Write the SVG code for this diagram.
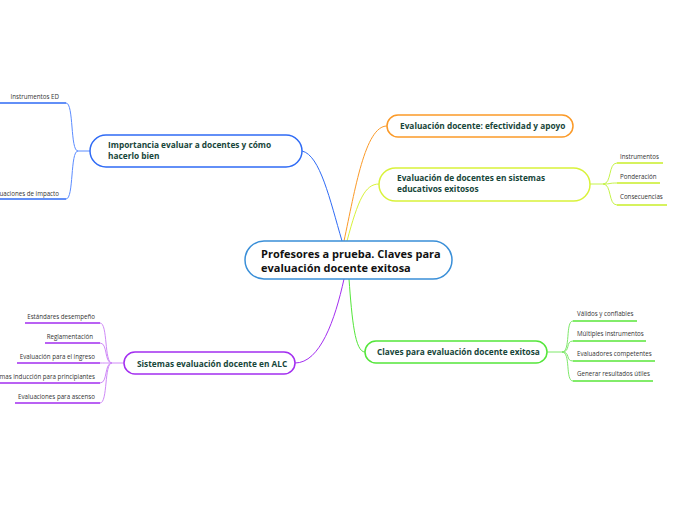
<svg xmlns="http://www.w3.org/2000/svg" width="697" height="520" viewBox="0 0 697 520">
<style>
.n{fill:#fff;stroke-width:1.5}
.t{font-family:"Open Sans","Noto Sans",sans-serif;font-weight:bold;font-size:8.3px;fill:#17463a}
.c{font-family:"Open Sans","Noto Sans",sans-serif;font-weight:bold;font-size:11px;fill:#111}
.s{font-family:"Open Sans","Noto Sans",sans-serif;font-size:6.2px;fill:#333}
.l{fill:none;stroke-width:1}
.u{fill:none;stroke-width:1.5}
</style>
<rect width="697" height="520" fill="#fff"/>
<g id="connectors">
<path class="l" stroke="#2f6bf5" stroke-width="1.4" d="M342 241 C330 200 320 155 302 151"/>
<path class="l" stroke="#fb9a28" stroke-width="1.4" d="M344 241 C355 190 365 126 387 126"/>
<path class="l" stroke="#d9f23a" stroke-width="1.4" d="M347 241 C358 200 365 184 379 184"/>
<path class="l" stroke="#54e63a" stroke-width="1.4" d="M349 279 C352 320 355 352 365 352"/>
<path class="l" stroke="#a32ef0" stroke-width="1.4" d="M344 279 C335 320 320 363 295 363"/>
<path class="l" stroke="#5b8cff" d="M90 151 H78 C70 151 74 103 66 103 M78 151 C70 151 74 199 66 199"/>
<path class="u" stroke="#2f6bf5" d="M0 103 H66 M0 199 H66"/>
<path class="l" stroke="#c6f34a" d="M590 184 H603 C612 184 608 163 617 163 M603 184 C612 184 608 183 617 183 M603 184 C612 184 608 205 617 205"/>
<path class="u" stroke="#c9ee2a" d="M617 163 H663 M617 183 H660 M617 205 H667"/>
<path class="l" stroke="#7ee86a" d="M547 352 H562 C571 352 565 321 573 321 M562 352 C571 352 565 341 573 341 M562 352 C571 352 565 361 573 361 M562 352 C571 352 565 381 573 381"/>
<path class="u" stroke="#5ae63a" d="M573 321 H637 M573 341 H646 M573 361 H655 M573 381 H653"/>
<path class="l" stroke="#cf8af7" d="M124 363 H112 C104 363 108 323 100 323 M112 363 C104 363 108 343 100 343 M112 363 C104 363 108 363 100 363 M112 363 C104 363 108 383 100 383 M112 363 C104 363 108 403 100 403"/>
<path class="u" stroke="#a32ef0" d="M25 323 H100 M45 343 H100 M17 363 H100 M0 383 H100 M15 403 H100"/>
</g>
<g id="central"><rect class="n" x="245" y="241" width="207" height="38" rx="19" stroke="#3a8fd8"/>
<text class="c" x="261" y="258">Profesores a prueba. Claves para</text><text class="c" x="261" y="272">evaluación docente exitosa</text></g>
<g id="importancia"><rect class="n" x="90" y="135" width="212" height="32" rx="16" stroke="#2f6bf5"/>
<text class="t" x="108" y="148">Importancia evaluar a docentes y cómo</text><text class="t" x="108" y="159">hacerlo bien</text></g>
<g id="imp1"><text class="s" x="59" y="99" text-anchor="end">Instrumentos ED</text></g>
<g id="imp2"><text class="s" x="59" y="196" text-anchor="end">Evaluaciones de impacto</text></g>
<g id="efectividad"><rect class="n" x="387" y="115" width="186" height="22" rx="11" stroke="#fb9a28"/>
<text class="t" x="400" y="129">Evaluación docente: efectividad y apoyo</text></g>
<g id="sistemas"><rect class="n" x="379" y="168" width="211" height="33" rx="16.5" stroke="#d9f23a"/>
<text class="t" x="397" y="181">Evaluación de docentes en sistemas</text><text class="t" x="397" y="192">educativos exitosos</text></g>
<g id="s1"><text class="s" x="620" y="159">Instrumentos</text></g>
<g id="s2"><text class="s" x="620" y="179">Ponderación</text></g>
<g id="s3"><text class="s" x="620" y="199">Consecuencias</text></g>
<g id="claves"><rect class="n" x="365" y="341" width="182" height="22" rx="11" stroke="#54e63a"/>
<text class="t" x="377" y="355">Claves para evaluación docente exitosa</text></g>
<g id="c1"><text class="s" x="577" y="316">Válidos y confiables</text></g>
<g id="c2"><text class="s" x="577" y="336">Múltiples instrumentos</text></g>
<g id="c3"><text class="s" x="577" y="356">Evaluadores competentes</text></g>
<g id="c4"><text class="s" x="577" y="376">Generar resultados útiles</text></g>
<g id="alc"><rect class="n" x="124" y="352" width="171" height="22" rx="11" stroke="#a32ef0"/>
<text class="t" x="137" y="367">Sistemas evaluación docente en ALC</text></g>
<g id="a1"><text class="s" x="95" y="319" text-anchor="end">Estándares desempeño</text></g>
<g id="a2"><text class="s" x="93" y="339" text-anchor="end">Reglamentación</text></g>
<g id="a3"><text class="s" x="95" y="359" text-anchor="end">Evaluación para el ingreso</text></g>
<g id="a4"><text class="s" x="95" y="379" text-anchor="end">Programas inducción para principiantes</text></g>
<g id="a5"><text class="s" x="95" y="399" text-anchor="end">Evaluaciones para ascenso</text></g>
</svg>
